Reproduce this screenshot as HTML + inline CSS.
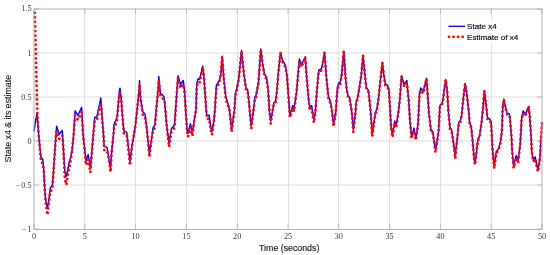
<!DOCTYPE html>
<html><head><meta charset="utf-8"><title>State x4 plot</title>
<style>html,body{margin:0;padding:0;background:#fff;width:550px;height:255px;overflow:hidden}svg{display:block}</style>
</head><body><svg width="550" height="255" viewBox="0 0 550 255"><rect width="550" height="255" fill="#fff"/><g stroke="#e2e2e2" stroke-width="1" shape-rendering="crispEdges"><line x1="84.80" y1="9" x2="84.80" y2="229"/><line x1="135.60" y1="9" x2="135.60" y2="229"/><line x1="186.40" y1="9" x2="186.40" y2="229"/><line x1="237.20" y1="9" x2="237.20" y2="229"/><line x1="288.00" y1="9" x2="288.00" y2="229"/><line x1="338.80" y1="9" x2="338.80" y2="229"/><line x1="389.60" y1="9" x2="389.60" y2="229"/><line x1="440.40" y1="9" x2="440.40" y2="229"/><line x1="491.20" y1="9" x2="491.20" y2="229"/></g><g stroke="#dedede" stroke-width="1.15"><line x1="34" y1="53.00" x2="542" y2="53.00"/><line x1="34" y1="97.00" x2="542" y2="97.00"/><line x1="34" y1="141.00" x2="542" y2="141.00"/><line x1="34" y1="185.00" x2="542" y2="185.00"/></g><g stroke="#bdbdbd" stroke-width="1"><line x1="34.00" y1="229" x2="34.00" y2="224"/><line x1="34.00" y1="9" x2="34.00" y2="14"/><line x1="84.80" y1="229" x2="84.80" y2="224"/><line x1="84.80" y1="9" x2="84.80" y2="14"/><line x1="135.60" y1="229" x2="135.60" y2="224"/><line x1="135.60" y1="9" x2="135.60" y2="14"/><line x1="186.40" y1="229" x2="186.40" y2="224"/><line x1="186.40" y1="9" x2="186.40" y2="14"/><line x1="237.20" y1="229" x2="237.20" y2="224"/><line x1="237.20" y1="9" x2="237.20" y2="14"/><line x1="288.00" y1="229" x2="288.00" y2="224"/><line x1="288.00" y1="9" x2="288.00" y2="14"/><line x1="338.80" y1="229" x2="338.80" y2="224"/><line x1="338.80" y1="9" x2="338.80" y2="14"/><line x1="389.60" y1="229" x2="389.60" y2="224"/><line x1="389.60" y1="9" x2="389.60" y2="14"/><line x1="440.40" y1="229" x2="440.40" y2="224"/><line x1="440.40" y1="9" x2="440.40" y2="14"/><line x1="491.20" y1="229" x2="491.20" y2="224"/><line x1="491.20" y1="9" x2="491.20" y2="14"/><line x1="542.00" y1="229" x2="542.00" y2="224"/><line x1="542.00" y1="9" x2="542.00" y2="14"/><line x1="34" y1="9.00" x2="39" y2="9.00"/><line x1="542" y1="9.00" x2="537" y2="9.00"/><line x1="34" y1="53.00" x2="39" y2="53.00"/><line x1="542" y1="53.00" x2="537" y2="53.00"/><line x1="34" y1="97.00" x2="39" y2="97.00"/><line x1="542" y1="97.00" x2="537" y2="97.00"/><line x1="34" y1="141.00" x2="39" y2="141.00"/><line x1="542" y1="141.00" x2="537" y2="141.00"/><line x1="34" y1="185.00" x2="39" y2="185.00"/><line x1="542" y1="185.00" x2="537" y2="185.00"/><line x1="34" y1="229.00" x2="39" y2="229.00"/><line x1="542" y1="229.00" x2="537" y2="229.00"/></g><g><path d="M34.00,131.30 L35.50,121.00 L37.00,113.80 L38.70,135.00 L40.90,156.80 L42.80,159.70 L43.80,170.00 L44.50,185.00 L45.50,199.00 L47.50,208.10 L48.90,200.00 L50.30,188.00 L52.40,185.00 L53.60,170.00 L54.60,155.00 L56.00,135.00 L56.60,126.20 L59.10,134.20 L62.30,130.50 L62.70,137.20 L64.90,172.00 L66.40,176.50 L68.30,167.00 L69.20,162.00 L70.50,158.00 L72.20,149.50 L73.60,135.00 L75.10,110.90 L78.00,115.30 L81.60,107.30 L83.10,135.00 L86.00,160.50 L88.20,154.60 L90.40,168.00 L93.30,135.00 L94.70,117.50 L96.90,116.70 L100.80,98.10 L103.50,135.00 L104.20,146.60 L107.10,147.40 L109.40,162.00 L110.50,168.10 L111.50,154.00 L113.70,132.30 L114.00,125.00 L114.80,122.20 L116.00,120.30 L117.20,116.00 L118.60,101.00 L119.50,90.00 L120.00,88.20 L121.00,97.30 L123.20,124.90 L123.90,130.80 L126.80,132.30 L130.00,161.50 L131.90,146.80 L135.50,125.00 L139.20,90.00 L139.50,80.50 L140.60,98.70 L142.80,111.80 L145.00,114.00 L146.50,126.40 L147.90,139.50 L149.40,153.40 L151.50,139.50 L153.00,127.90 L154.80,125.00 L158.10,90.00 L158.80,76.50 L160.30,92.90 L163.90,96.50 L164.60,101.60 L166.80,126.40 L169.00,143.20 L171.20,129.40 L172.60,127.20 L174.50,125.00 L177.00,90.00 L178.00,75.80 L180.50,84.50 L183.30,80.50 L184.40,89.50 L185.80,112.00 L187.30,131.80 L188.00,133.30 L190.50,123.80 L192.40,132.50 L194.50,118.70 L196.00,110.00 L196.70,83.70 L198.20,78.60 L199.60,79.40 L202.80,66.20 L204.00,77.90 L206.20,110.00 L206.90,115.80 L209.10,115.10 L211.30,130.40 L212.00,131.80 L214.20,118.70 L214.90,110.00 L216.40,85.20 L217.80,83.00 L219.30,80.80 L220.70,75.00 L222.20,56.30 L223.60,76.50 L225.80,96.80 L228.00,103.40 L229.50,110.00 L231.60,128.90 L234.50,110.00 L235.30,93.90 L236.70,88.80 L238.90,77.90 L241.50,50.50 L244.00,75.00 L246.20,88.80 L247.60,89.50 L248.40,96.80 L249.80,112.00 L251.30,126.00 L253.50,110.00 L254.90,96.80 L255.60,96.80 L257.20,89.50 L258.50,82.30 L260.80,49.00 L262.30,61.80 L264.50,74.20 L266.60,77.20 L268.10,89.50 L269.50,112.00 L270.70,121.00 L272.50,111.40 L273.90,102.60 L275.40,101.90 L276.80,92.50 L278.30,73.50 L280.50,52.40 L281.90,58.90 L285.50,65.50 L287.00,76.00 L288.50,96.80 L289.90,115.20 L292.80,105.50 L294.00,109.00 L296.50,92.50 L297.90,76.40 L299.40,58.90 L301.50,64.70 L305.20,56.70 L306.60,76.40 L308.80,101.20 L309.80,108.00 L311.70,105.50 L313.90,120.30 L315.40,111.40 L316.80,92.50 L318.30,75.00 L319.00,69.80 L320.50,69.50 L321.90,67.60 L324.50,52.40 L326.30,76.40 L328.50,96.80 L330.60,101.90 L332.10,112.00 L333.50,124.20 L335.80,112.00 L337.30,88.10 L338.70,83.00 L340.20,82.30 L341.60,75.00 L343.80,51.30 L345.30,75.00 L346.70,89.50 L348.20,96.10 L349.60,97.50 L351.80,112.00 L353.30,129.70 L355.50,112.00 L356.20,101.20 L357.60,97.50 L359.10,89.50 L361.30,75.00 L363.00,55.30 L364.90,75.00 L366.40,88.10 L368.50,90.30 L370.70,112.00 L372.20,134.10 L374.40,119.50 L375.40,112.00 L376.80,109.50 L378.70,97.00 L380.20,82.30 L382.40,62.50 L383.80,75.00 L385.30,83.70 L387.50,85.20 L388.90,89.50 L389.60,101.20 L391.10,126.80 L392.50,134.80 L394.70,121.00 L396.20,125.40 L398.40,112.30 L399.80,100.00 L401.50,76.00 L404.20,84.50 L406.90,80.50 L408.60,99.50 L410.10,122.00 L411.50,136.80 L414.00,128.10 L415.90,138.30 L418.10,123.70 L419.50,93.70 L420.80,88.00 L423.20,91.50 L426.50,78.30 L427.50,92.30 L429.00,114.10 L431.20,131.00 L432.60,131.00 L434.10,141.20 L435.50,150.20 L438.50,132.50 L439.90,105.40 L441.40,103.90 L442.80,101.00 L444.30,89.40 L445.70,79.70 L447.20,90.80 L448.60,114.10 L450.10,128.10 L451.50,129.50 L453.70,144.10 L455.20,156.70 L457.40,136.80 L458.80,122.30 L460.30,120.80 L461.70,115.00 L463.20,99.50 L465.10,83.40 L466.80,93.70 L469.00,114.10 L469.70,123.70 L471.20,125.90 L472.60,141.20 L474.40,160.50 L475.10,163.00 L476.50,151.80 L478.00,138.70 L479.50,136.50 L481.60,121.80 L483.10,107.30 L484.30,90.40 L486.00,104.40 L487.50,117.50 L489.60,118.90 L491.10,121.80 L492.50,148.90 L494.20,166.80 L496.20,151.80 L498.40,148.90 L500.50,141.60 L502.00,130.00 L502.70,107.30 L503.90,99.10 L504.90,104.40 L507.10,113.10 L509.30,113.80 L510.00,118.90 L511.50,137.00 L512.20,151.80 L513.60,166.30 L516.30,155.50 L518.00,161.30 L520.20,144.50 L521.60,118.90 L523.10,110.90 L525.30,114.50 L528.60,106.40 L529.60,114.50 L531.10,137.00 L531.80,151.80 L533.30,159.80 L535.20,156.90 L536.90,166.00 L538.00,170.20 L539.80,159.10 L541.30,135.80 L542.00,122.00" fill="none" stroke="#0000ff" stroke-width="1.45" stroke-linejoin="round"/><path d="M34.80,12.80 L37.30,113.50 L38.70,135.00 L40.90,160.74 L42.80,163.62 L43.80,170.00 L44.50,185.00 L45.50,201.00 L47.50,214.94 L48.90,202.00 L50.30,191.85 L52.40,188.83 L53.60,170.00 L54.60,155.00 L56.00,135.00 L56.60,131.07 L59.10,138.91 L62.30,135.67 L62.70,137.20 L64.90,179.21 L66.40,184.62 L68.30,170.50 L69.20,169.17 L70.50,161.66 L72.20,149.50 L73.60,135.00 L75.10,115.66 L78.00,119.79 L81.60,112.02 L83.10,135.00 L86.00,164.90 L88.20,159.47 L90.40,172.34 L93.30,135.00 L94.70,120.94 L96.90,120.11 L100.80,102.71 L103.50,135.00 L104.20,149.95 L107.10,150.72 L109.40,162.00 L110.50,172.21 L111.50,154.00 L113.70,132.30 L114.00,128.26 L114.80,125.45 L116.00,123.54 L117.20,119.23 L118.60,101.00 L119.50,93.20 L120.00,92.70 L121.00,97.30 L123.20,124.90 L123.90,133.97 L126.80,135.45 L130.00,165.42 L131.90,146.80 L135.50,125.00 L139.20,90.00 L139.50,84.51 L140.60,98.70 L142.80,114.85 L145.00,117.03 L146.50,126.40 L147.90,139.50 L149.40,157.16 L151.50,139.50 L153.00,130.88 L154.80,127.97 L158.10,90.00 L158.80,80.03 L160.30,95.83 L163.90,99.41 L164.60,101.60 L166.80,126.40 L169.00,146.79 L171.20,132.26 L172.60,130.05 L174.50,127.84 L177.00,90.00 L178.00,78.17 L180.50,87.99 L183.30,84.45 L184.40,89.50 L185.80,112.00 L187.30,134.52 L188.00,136.69 L190.50,127.65 L192.40,135.82 L194.50,118.70 L196.00,110.00 L196.70,86.31 L198.20,82.34 L199.60,82.62 L202.80,67.17 L204.00,77.90 L206.20,110.00 L206.90,118.92 L209.10,118.68 L211.30,132.84 L212.00,134.84 L214.20,118.70 L214.90,110.00 L216.40,87.58 L217.80,85.37 L219.30,83.15 L220.70,75.00 L222.20,57.04 L223.60,76.50 L225.80,99.08 L228.00,105.65 L229.50,110.00 L231.60,131.66 L234.50,110.00 L235.30,96.07 L236.70,90.95 L238.90,77.90 L241.50,51.02 L244.00,75.00 L246.20,90.84 L247.60,91.53 L248.40,96.80 L249.80,112.00 L251.30,128.50 L253.50,110.00 L254.90,99.28 L255.60,99.28 L257.20,89.50 L258.50,82.30 L260.80,49.30 L262.30,61.80 L264.50,76.16 L266.60,79.16 L268.10,89.50 L269.50,112.00 L270.70,123.43 L272.50,111.40 L273.90,104.54 L275.40,103.83 L276.80,92.50 L278.30,73.50 L280.50,52.70 L281.90,60.81 L285.50,67.41 L287.00,76.00 L288.50,96.80 L289.90,117.57 L292.80,108.36 L294.00,111.35 L296.50,92.50 L297.90,76.40 L299.40,61.74 L301.50,67.03 L305.20,57.00 L306.60,76.40 L308.80,101.20 L309.80,110.30 L311.70,108.29 L313.90,122.59 L315.40,111.40 L316.80,92.50 L318.30,75.00 L319.00,71.62 L320.50,71.31 L321.90,69.41 L324.50,52.70 L326.30,76.40 L328.50,98.59 L330.60,103.69 L332.10,112.00 L333.50,126.42 L335.80,112.00 L337.30,89.87 L338.70,84.76 L340.20,84.06 L341.60,75.00 L343.80,51.60 L345.30,75.00 L346.70,89.50 L348.20,97.84 L349.60,99.23 L351.80,112.00 L353.30,131.86 L355.50,112.00 L356.20,102.92 L357.60,99.21 L359.10,89.50 L361.30,75.00 L363.00,55.60 L364.90,75.00 L366.40,89.79 L368.50,91.98 L370.70,112.00 L372.20,136.19 L374.40,119.50 L375.40,113.67 L376.80,111.16 L378.70,97.00 L380.20,82.30 L382.40,62.80 L383.80,75.00 L385.30,85.34 L387.50,86.83 L388.90,91.13 L389.60,101.20 L391.10,126.80 L392.50,136.83 L394.70,123.52 L396.20,127.41 L398.40,112.30 L399.80,100.00 L401.50,76.30 L404.20,86.49 L406.90,82.98 L408.60,99.50 L410.10,122.00 L411.50,138.76 L414.00,130.55 L415.90,140.24 L418.10,123.70 L419.50,93.70 L420.80,90.43 L423.20,93.42 L426.50,78.60 L427.50,92.30 L429.00,114.10 L431.20,132.89 L432.60,132.89 L434.10,141.20 L435.50,152.07 L438.50,132.50 L439.90,106.89 L441.40,105.38 L442.80,102.48 L444.30,89.40 L445.70,80.00 L447.20,90.80 L448.60,114.10 L450.10,129.56 L451.50,130.95 L453.70,144.10 L455.20,158.51 L457.40,136.80 L458.80,123.73 L460.30,122.23 L461.70,115.00 L463.20,99.50 L465.10,83.70 L466.80,93.70 L469.00,114.10 L469.70,125.10 L471.20,127.30 L472.60,141.20 L474.40,161.89 L475.10,164.74 L476.50,151.80 L478.00,140.08 L479.50,137.88 L481.60,121.80 L483.10,107.30 L484.30,90.70 L486.00,104.40 L487.50,118.85 L489.60,120.25 L491.10,123.14 L492.50,148.90 L494.20,168.47 L496.20,153.13 L498.40,150.22 L500.50,142.92 L502.00,130.00 L502.70,107.30 L503.90,99.40 L504.90,105.70 L507.10,114.40 L509.30,115.09 L510.00,118.90 L511.50,137.00 L512.20,151.80 L513.60,167.90 L516.30,157.59 L518.00,162.88 L520.20,144.50 L521.60,118.90 L523.10,112.97 L525.30,116.06 L528.60,106.70 L529.60,114.50 L531.10,137.00 L531.80,151.80 L533.30,161.33 L535.20,158.92 L536.90,167.21 L538.00,171.71 L539.80,159.10 L541.30,135.80 L542.00,122.00" fill="none" stroke="#ff0000" stroke-width="2.8" stroke-linecap="round" stroke-dasharray="0.01 4.55"/></g><path d="M34,9 H542 V229.5 H34 Z" fill="none" stroke="#b0b0b0" stroke-width="1"/><rect x="443" y="20" width="94" height="23" fill="#fff"/><line x1="448.5" y1="26.3" x2="465" y2="26.3" stroke="#0000ff" stroke-width="1.3"/><line x1="449" y1="36.8" x2="465" y2="36.8" stroke="#ff0000" stroke-width="2.8" stroke-linecap="round" stroke-dasharray="0.01 4.55"/><g font-family="Liberation Sans, Arial, sans-serif" font-size="8.1" fill="#111" stroke="#111" stroke-width="0.2"><text x="467" y="29.0">State x4</text><text x="467" y="39.5">Estimate of x4</text></g><g font-family="Liberation Serif, serif" font-size="8.2" fill="#383838"><text x="34.00" y="239" text-anchor="middle">0</text><text x="84.80" y="239" text-anchor="middle">5</text><text x="135.60" y="239" text-anchor="middle">10</text><text x="186.40" y="239" text-anchor="middle">15</text><text x="237.20" y="239" text-anchor="middle">20</text><text x="288.00" y="239" text-anchor="middle">25</text><text x="338.80" y="239" text-anchor="middle">30</text><text x="389.60" y="239" text-anchor="middle">35</text><text x="440.40" y="239" text-anchor="middle">40</text><text x="491.20" y="239" text-anchor="middle">45</text><text x="542.00" y="239" text-anchor="middle">50</text><text x="31.5" y="11.20" text-anchor="end">1.5</text><text x="31.5" y="55.90" text-anchor="end">1</text><text x="31.5" y="99.90" text-anchor="end">0.5</text><text x="31.5" y="143.90" text-anchor="end">0</text><text x="31.5" y="187.90" text-anchor="end">&#8722;<tspan dx="0.7">0.5</tspan></text><text x="31.5" y="231.90" text-anchor="end">&#8722;<tspan dx="0.7">1</tspan></text></g><text x="289.2" y="251.4" text-anchor="middle" font-family="Liberation Sans, Arial, sans-serif" font-size="8.8" fill="#1a1a1a" stroke="#1a1a1a" stroke-width="0.15">Time (seconds)</text><text transform="translate(11.3,118.7) rotate(-90)" text-anchor="middle" font-family="Liberation Sans, Arial, sans-serif" font-size="8.8" fill="#1a1a1a" stroke="#1a1a1a" stroke-width="0.15">State x4 &amp; its estimate</text></svg></body></html>
